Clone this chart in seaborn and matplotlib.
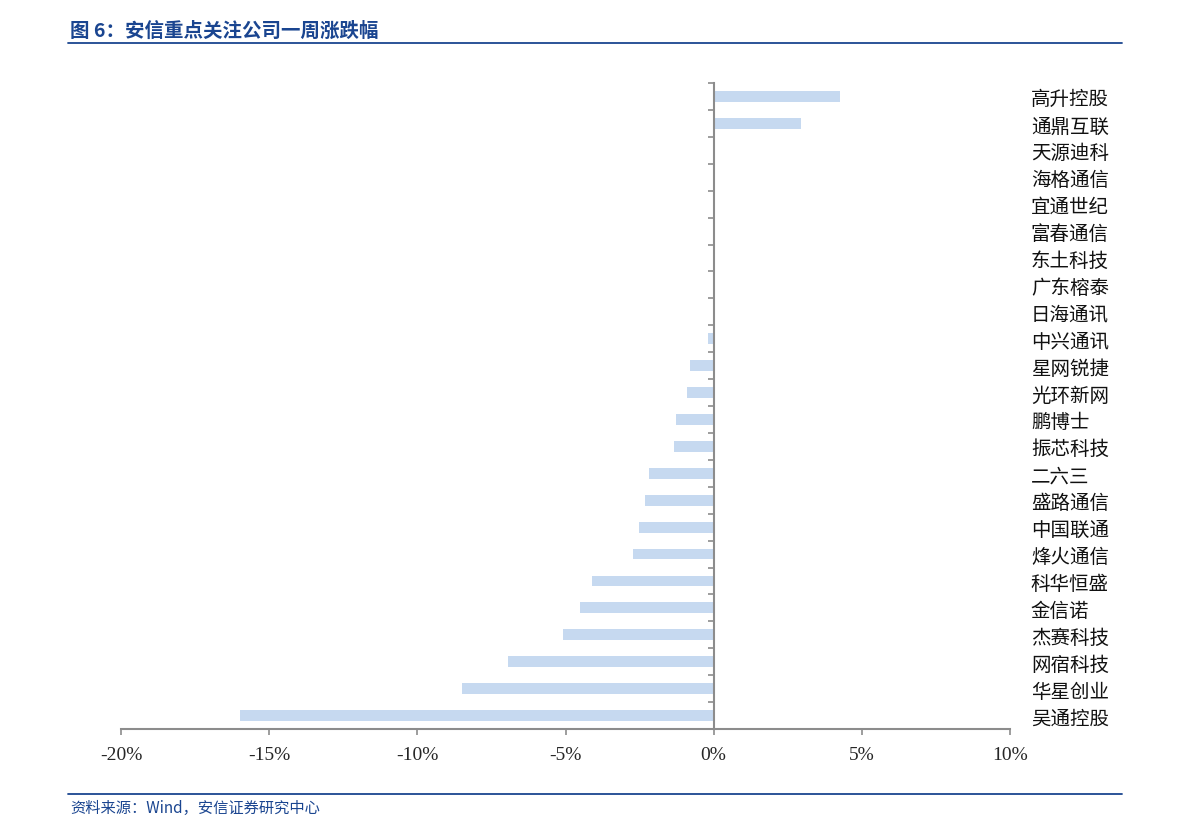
import numpy as np
import pandas as pd
import matplotlib
matplotlib.use("Agg")
import matplotlib.pyplot as plt
import seaborn as sns
from matplotlib.lines import Line2D
from matplotlib.ticker import FuncFormatter

# Data (weekly change, %)
companies = ["高升控股", "通鼎互联", "天源迪科", "海格通信", "宜通世纪", "富春通信",
             "东土科技", "广东榕泰", "日海通讯", "中兴通讯", "星网锐捷", "光环新网",
             "鹏博士", "振芯科技", "二六三", "盛路通信", "中国联通", "烽火通信",
             "科华恒盛", "金信诺", "杰赛科技", "网宿科技", "华星创业", "吴通控股"]
changes = [4.25, 2.94, 0.0, 0.0, 0.0, 0.0,
           0.0, 0.0, -0.03, -0.18, -0.80, -0.91,
           -1.27, -1.35, -2.18, -2.33, -2.51, -2.73,
           -4.11, -4.51, -5.09, -6.95, -8.48, -15.97]
xticks = [-20, -15, -10, -5, 0, 5, 10]

df = pd.DataFrame({"company": companies, "change": changes})

sns.set_style("white")
plt.rcParams["font.family"] = ["Noto Sans CJK SC", "DejaVu Sans"]

W, H = 1191, 837
fig = plt.figure(figsize=(W / 100, H / 100), dpi=100)
ax = fig.add_axes([121 / W, 1 - 730 / H, (1010 - 121) / W, (730 - 84) / H])

sns.barplot(data=df, x="change", y="company", orient="h", color="#c6d9f0",
            width=0.4, linewidth=0, saturation=1, ax=ax)

ax.set_xlim(-20, 10)
ax.set_ylim(len(companies) - 0.5, -0.5)
ax.set_xticks(xticks)
ax.xaxis.set_major_formatter(FuncFormatter(lambda v, p: f"{v:.0f}%"))
for lab in ax.get_xticklabels():
    lab.set_fontfamily("Liberation Serif")
    lab.set_fontsize(14)
ax.tick_params(axis="x", direction="out", length=4, width=1.2, color="#8c8c8c",
               pad=8, bottom=True)

# y axis at zero, ticks at category boundaries
ax.spines["left"].set_position(("data", 0))
ax.set_yticks(np.arange(-0.5, len(companies), 1))
ax.set_yticklabels([])
ax.tick_params(axis="y", direction="out", length=4, width=1.2, color="#8c8c8c", left=True)
for s in ["top", "right"]:
    ax.spines[s].set_visible(False)
for s in ["left", "bottom"]:
    ax.spines[s].set_color("#8c8c8c")
    ax.spines[s].set_linewidth(1.5)
ax.set_xlabel("")
ax.set_ylabel("")

# company labels on the right
ax2 = ax.twinx()
ax2.set_ylim(ax.get_ylim())
ax2.set_yticks(np.arange(len(companies)))
ax2.set_yticklabels(companies, fontsize=14, color="#111111")
ax2.tick_params(axis="y", length=0, pad=15)
for s in ax2.spines.values():
    s.set_visible(False)

# title and source
blue = "#1a4590"
fig.text(70 / W, 1 - 31 / H, "图 6：安信重点关注公司一周涨跌幅", fontsize=14,
         fontweight="bold", color=blue, va="center", ha="left")
fig.add_artist(Line2D([68 / W, 1122 / W], [1 - 44 / H, 1 - 44 / H], color=blue, lw=1.3))
fig.add_artist(Line2D([68 / W, 1122 / W], [1 - 795 / H, 1 - 795 / H], color=blue, lw=1.3))
fig.text(70 / W, 1 - 808 / H, "资料来源：Wind，安信证券研究中心", fontsize=11,
         color=blue, va="center", ha="left", style="italic")

fig.savefig("out.png", dpi=100)
